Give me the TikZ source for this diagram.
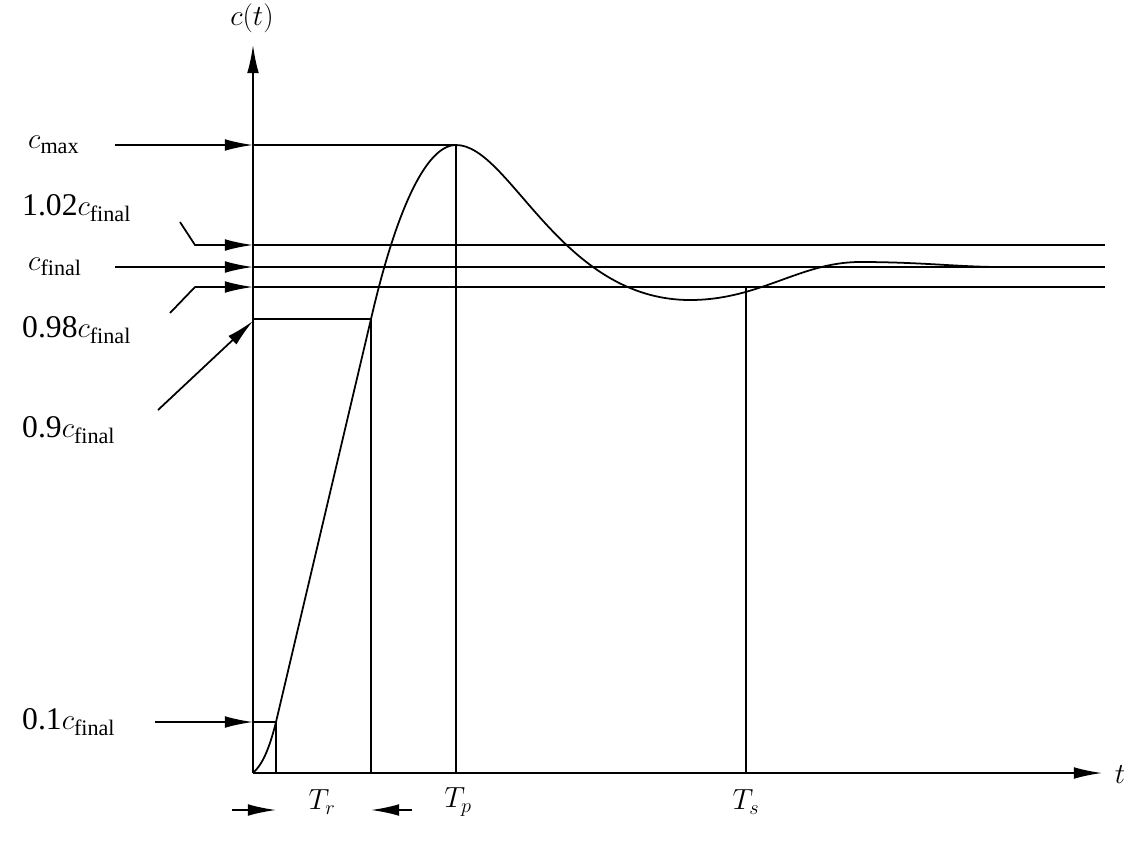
\documentclass[tikz,border=0pt]{standalone}
\usepackage{fontspec}
\setmainfont{Liberation Serif}
\usetikzlibrary{arrows.meta}
\begin{document}
\begin{tikzpicture}[x=0.03cm,y=-0.03cm,
  ln/.style={line width=1.5pt},
  ar/.style={line width=1.5pt,-{Latex[length=24pt,width=10pt]}},
  lab/.style={font=\fontsize{27}{30}\selectfont,inner sep=0pt}]
\useasboundingbox (0,0) rectangle (1130,840);
\coordinate (O) at (253,773);
\coordinate (Ytop) at (253,45);
\coordinate (Xend) at (1102,773);
\draw[ar] (O) -- (Ytop);
\draw[ar] (O) -- (Xend);
\node[lab] (ct) at (252,18) {$c(t)$};
\node[lab] (tl) at (1120,775) {$t$};
\coordinate (pk) at (456,145);
\coordinate (a9) at (371,319);
\coordinate (a1) at (276,722);
\coordinate (s) at (746,287);
\draw[ln] (253,145) -- (pk) -- (456,773);
\draw[ln] (253,245) -- (1105,245);
\draw[ln] (253,267) -- (1105,267);
\draw[ln] (253,287) -- (1105,287);
\draw[ln] (253,319) -- (a9) -- (371,773);
\draw[ln] (253,722) -- (a1) -- (276,773);
\draw[ln] (s) -- (746,773);
% curve
\draw[ln] (O) .. controls (262,765) and (269,750) .. (a1) -- (a9)
  .. controls (395,215) and (425,145) .. (pk)
  .. controls (510,145) and (560,300) .. (690,300)
  .. controls (760,300) and (800,262) .. (860,262)
  .. controls (920,262) and (960,267) .. (1000,267);
% labels
\node[lab,anchor=west] (lmax) at (28,145) {$c_{\mathrm{max}}$};
\draw[ar] (115,145) -- (253,145);
\node[lab,anchor=west] (l102) at (22,208) {1.02$c_{\mathrm{final}}$};
\draw[ar] (180,222) -- (195,245) -- (253,245);
\node[lab,anchor=west] (lf) at (28,267) {$c_{\mathrm{final}}$};
\draw[ar] (115,267) -- (253,267);
\node[lab,anchor=west] (l98) at (22,330) {0.98$c_{\mathrm{final}}$};
\draw[ar] (170,313) -- (195,287) -- (253,287);
\node[lab,anchor=west] (l9) at (22,430) {0.9$c_{\mathrm{final}}$};
\draw[ar] (158,410) -- (253,321);
\node[lab,anchor=west] (l1) at (22,722) {0.1$c_{\mathrm{final}}$};
\draw[ar] (155,722) -- (253,722);
\draw[ar] (232,810) -- (276,810);
\draw[ar] (412,810) -- (371,810);
\node[lab] (tr) at (322,802) {$T_r$};
\node[lab] (tp) at (458,802) {$T_p$};
\node[lab] (ts) at (746,802) {$T_s$};
\end{tikzpicture}
\end{document}
